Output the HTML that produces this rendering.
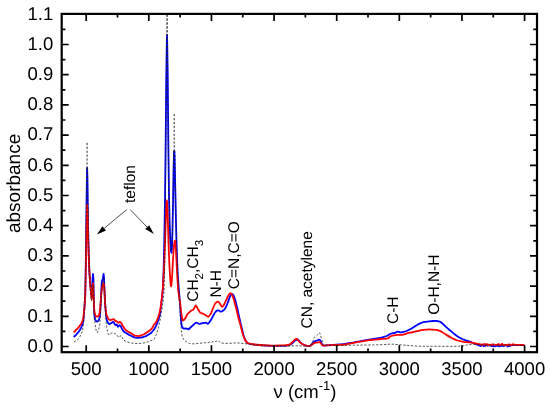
<!DOCTYPE html>
<html><head><meta charset="utf-8"><title>FTIR absorbance</title>
<style>
html,body{margin:0;padding:0;background:#fff;}
svg{display:block;}
text{font-family:"Liberation Sans",Arial,sans-serif;fill:#000;text-rendering:geometricPrecision;}
.t18{font-size:18.5px;}
.t15{font-size:15.5px;}
</style></head><body>
<svg width="550" height="410" viewBox="0 0 550 410">
<rect x="0" y="0" width="550" height="410" fill="#fff"/>
<defs><clipPath id="pc"><rect x="61.7" y="13.9" width="475.3" height="338.3"/></clipPath></defs>

<g clip-path="url(#pc)" fill="none" stroke-linejoin="round" stroke-linecap="butt">
<path d="M73.70 337.00L76.00 334.80L78.50 332.00L80.20 329.50L81.60 326.60L82.60 323.80L83.40 320.50L83.80 315.00L84.40 308.50L84.80 302.00L85.20 296.00L85.50 282.00L85.90 255.00L86.40 215.00L86.90 178.00L87.10 167.80L87.40 178.00L87.90 215.00L88.60 250.00L89.40 272.00L90.20 284.00L91.00 292.50L91.50 295.50L92.00 288.00L92.60 278.00L93.00 274.00L93.40 278.00L93.70 292.00L94.00 306.00L94.30 314.00L94.80 318.00L95.50 320.30L96.30 321.30L97.10 321.70L97.90 321.30L98.70 320.30L99.40 318.00L100.00 314.60L100.40 309.00L100.80 301.00L101.20 293.00L101.80 281.30L102.30 280.50L102.90 278.00L103.60 274.00L104.10 278.00L104.50 291.00L104.90 300.00L105.40 307.50L105.80 312.50L106.30 317.00L106.90 320.50L108.00 322.80L109.10 324.10L110.20 323.70L111.30 323.00L113.20 321.90L113.80 322.50L114.30 323.40L115.00 324.50L115.70 325.20L116.80 324.50L117.40 325.50L117.90 326.70L118.80 326.20L119.70 325.20L120.30 325.50L120.80 326.30L122.30 329.30L123.70 331.50L126.00 333.00L128.50 334.60L131.00 335.70L134.90 337.60L138.00 337.90L141.00 337.60L143.50 337.00L145.90 336.10L148.30 334.80L150.70 333.30L152.60 331.30L154.40 329.00L156.00 326.00L157.40 322.90L158.70 319.00L159.90 314.40L160.80 308.50L161.50 302.00L162.20 296.00L162.90 288.00L163.60 270.00L164.30 240.00L165.00 200.00L165.70 140.00L166.30 75.00L166.80 42.00L167.00 35.00L167.20 42.00L167.70 75.00L168.30 140.00L169.00 195.00L169.70 225.00L170.40 243.00L171.00 251.00L171.50 252.80L171.90 249.00L172.50 230.00L173.10 200.00L173.60 170.00L174.00 153.00L174.20 151.00L174.50 155.00L175.00 175.00L175.60 205.00L176.30 235.00L177.00 258.00L177.80 275.00L178.60 287.00L179.40 296.00L180.00 304.00L180.50 312.00L181.00 320.00L181.70 325.50L182.50 327.60L183.20 328.20C183.47 328.38 183.77 328.67 184.10 328.70C184.43 328.73 184.87 328.38 185.20 328.40C185.53 328.42 185.75 328.77 186.10 328.80C186.45 328.83 186.92 328.52 187.30 328.60C187.68 328.68 187.95 329.40 188.40 329.30C188.85 329.20 189.40 328.52 190.00 328.00C190.60 327.48 191.33 326.83 192.00 326.20C192.67 325.57 193.28 324.80 194.00 324.20C194.72 323.60 195.63 322.73 196.30 322.60C196.97 322.47 197.48 323.20 198.00 323.40C198.52 323.60 198.90 323.78 199.40 323.80C199.90 323.82 200.40 323.60 201.00 323.50C201.60 323.40 202.42 323.30 203.00 323.20C203.58 323.10 204.00 323.00 204.50 322.90C205.00 322.80 205.43 322.45 206.00 322.60C206.57 322.75 207.32 323.90 207.90 323.80C208.48 323.70 208.98 322.63 209.50 322.00C210.02 321.37 210.50 320.83 211.00 320.00C211.50 319.17 212.00 317.97 212.50 317.00C213.00 316.03 213.50 315.03 214.00 314.20C214.50 313.37 215.00 312.60 215.50 312.00C216.00 311.40 216.50 310.87 217.00 310.60C217.50 310.33 218.00 310.28 218.50 310.40C219.00 310.52 219.53 311.10 220.00 311.30C220.47 311.50 220.95 311.62 221.30 311.60C221.65 311.58 221.83 311.35 222.10 311.20C222.37 311.05 222.58 310.93 222.90 310.70C223.22 310.47 223.63 310.18 224.00 309.80C224.37 309.42 224.77 308.90 225.10 308.40C225.43 307.90 225.70 307.40 226.00 306.80C226.30 306.20 226.57 305.60 226.90 304.80C227.23 304.00 227.63 302.98 228.00 302.00C228.37 301.02 228.75 299.83 229.10 298.90C229.45 297.97 229.78 297.10 230.10 296.40C230.42 295.70 230.72 295.12 231.00 294.70C231.28 294.28 231.52 293.95 231.80 293.90C232.08 293.85 232.32 293.95 232.70 294.40C233.08 294.85 233.65 295.58 234.10 296.60C234.55 297.62 234.98 299.03 235.40 300.50C235.82 301.97 236.20 303.73 236.60 305.40C237.00 307.07 237.40 308.68 237.80 310.50C238.20 312.32 238.60 314.47 239.00 316.30C239.40 318.13 239.80 319.80 240.20 321.50C240.60 323.20 241.00 324.83 241.40 326.50C241.80 328.17 242.23 330.00 242.60 331.50C242.97 333.00 243.20 334.17 243.60 335.50C244.00 336.83 244.50 338.42 245.00 339.50C245.50 340.58 246.05 341.33 246.60 342.00C247.15 342.67 247.00 343.05 248.30 343.50C249.60 343.95 251.35 344.35 254.40 344.70C257.45 345.05 263.35 345.40 266.60 345.60C269.85 345.80 271.47 345.87 273.90 345.90C276.33 345.93 279.35 345.82 281.20 345.80C283.05 345.78 283.87 345.87 285.00 345.80C286.13 345.73 287.17 345.57 288.00 345.40C288.83 345.23 289.33 345.12 290.00 344.80C290.67 344.48 291.33 344.03 292.00 343.50C292.67 342.97 293.40 342.15 294.00 341.60C294.60 341.05 295.07 340.55 295.60 340.20C296.13 339.85 296.70 339.50 297.20 339.50C297.70 339.50 298.13 339.78 298.60 340.20C299.07 340.62 299.47 341.43 300.00 342.00C300.53 342.57 301.20 343.15 301.80 343.60C302.40 344.05 302.90 344.37 303.60 344.70C304.30 345.03 305.08 345.35 306.00 345.60C306.92 345.85 308.30 346.25 309.10 346.20C309.90 346.15 310.27 345.73 310.80 345.30C311.33 344.87 311.75 344.18 312.30 343.60C312.85 343.02 313.35 342.30 314.10 341.80C314.85 341.30 316.12 340.90 316.80 340.60C317.48 340.30 317.82 340.17 318.20 340.00C318.58 339.83 318.82 339.60 319.10 339.60C319.38 339.60 319.65 339.77 319.90 340.00C320.15 340.23 320.38 340.62 320.60 341.00C320.82 341.38 321.00 341.83 321.20 342.30C321.40 342.77 321.55 343.30 321.80 343.80C322.05 344.30 322.32 345.00 322.70 345.30C323.08 345.60 323.22 345.62 324.10 345.60C324.98 345.58 326.38 345.32 328.00 345.20C329.62 345.08 331.80 345.03 333.80 344.90C335.80 344.77 338.13 344.57 340.00 344.40C341.87 344.23 343.17 344.15 345.00 343.90C346.83 343.65 348.97 343.27 351.00 342.90C353.03 342.53 355.20 342.07 357.20 341.70C359.20 341.33 360.97 341.05 363.00 340.70C365.03 340.35 367.40 339.93 369.40 339.60C371.40 339.27 373.17 339.00 375.00 338.70C376.83 338.40 378.98 338.08 380.40 337.80C381.82 337.52 382.48 337.30 383.50 337.00C384.52 336.70 385.58 336.40 386.50 336.00C387.42 335.60 388.20 335.02 389.00 334.60C389.80 334.18 390.63 333.75 391.30 333.50C391.97 333.25 392.38 333.20 393.00 333.10C393.62 333.00 394.27 333.13 395.00 332.90C395.73 332.67 396.73 331.87 397.40 331.70C398.07 331.53 398.48 331.78 399.00 331.90C399.52 332.02 399.83 332.38 400.50 332.40C401.17 332.42 402.25 332.15 403.00 332.00C403.75 331.85 404.17 331.78 405.00 331.50C405.83 331.22 406.98 330.77 408.00 330.30C409.02 329.83 410.10 329.27 411.10 328.70C412.10 328.13 412.98 327.52 414.00 326.90C415.02 326.28 416.17 325.58 417.20 325.00C418.23 324.42 419.18 323.87 420.20 323.40C421.22 322.93 421.77 322.55 423.30 322.20C424.83 321.85 427.78 321.50 429.40 321.30C431.02 321.10 431.78 321.05 433.00 321.00C434.22 320.95 435.75 320.95 436.70 321.00C437.65 321.05 438.08 321.13 438.70 321.30C439.32 321.47 439.82 321.67 440.40 322.00C440.98 322.33 441.60 322.80 442.20 323.30C442.80 323.80 442.68 323.80 444.00 325.00C445.32 326.20 448.07 328.77 450.10 330.50C452.13 332.23 454.17 333.98 456.20 335.40C458.23 336.82 460.83 338.23 462.30 339.00C463.77 339.77 463.73 339.55 465.00 340.00C466.27 340.45 468.57 341.20 469.90 341.70C471.23 342.20 471.98 342.60 473.00 343.00C474.02 343.40 475.08 343.73 476.00 344.10C476.92 344.47 477.68 344.88 478.50 345.20C479.32 345.52 480.32 346.06 480.90 346.00C481.48 345.94 481.67 345.01 482.00 344.84C482.33 344.67 482.60 344.74 482.90 344.99C483.20 345.24 483.50 346.27 483.80 346.34C484.10 346.41 484.40 345.49 484.70 345.39C485.00 345.29 485.30 345.77 485.60 345.73C485.90 345.69 486.20 345.18 486.50 345.14C486.80 345.10 487.10 345.49 487.40 345.51C487.70 345.53 488.00 345.34 488.30 345.29C488.60 345.24 488.90 345.17 489.20 345.23C489.50 345.29 489.80 345.58 490.10 345.65C490.40 345.72 490.70 345.55 491.00 345.65C491.30 345.75 491.60 346.20 491.90 346.23C492.20 346.26 492.50 345.82 492.80 345.83C493.10 345.84 493.40 346.22 493.70 346.27C494.00 346.32 494.30 346.12 494.60 346.14C494.90 346.16 495.20 346.44 495.50 346.38C495.80 346.32 496.10 346.06 496.40 345.81C496.70 345.56 497.00 344.83 497.30 344.89C497.60 344.95 497.90 345.91 498.20 346.15C498.50 346.39 498.80 346.33 499.10 346.34C499.40 346.35 499.70 346.35 500.00 346.23C500.30 346.11 500.60 345.68 500.90 345.62C501.20 345.56 501.50 345.99 501.80 345.88C502.10 345.77 502.40 344.94 502.70 344.98C503.00 345.02 503.30 345.99 503.60 346.10C503.90 346.21 504.20 345.80 504.50 345.63C504.80 345.46 505.10 345.26 505.40 345.11C505.70 344.96 506.00 344.54 506.30 344.71C506.60 344.88 506.90 345.86 507.20 346.14C507.50 346.42 507.80 346.61 508.10 346.38C508.40 346.15 508.70 344.82 509.00 344.76C509.30 344.70 509.60 345.94 509.90 346.04C510.20 346.14 510.50 345.53 510.80 345.34C511.10 345.14 511.17 344.93 511.70 344.87C512.23 344.81 512.95 344.98 514.00 345.00C515.05 345.02 516.67 345.00 518.00 345.00C519.33 345.00 520.95 345.00 522.00 345.00C523.05 345.00 523.92 345.00 524.30 345.00" stroke="#0000ff" stroke-width="1.8"/>
<path d="M73.50 331.40L74.80 331.80L75.60 330.40L76.20 329.70L77.50 328.70L79.10 326.60L80.50 324.80L81.60 322.90L82.60 320.50L83.40 318.00L83.80 313.50L84.40 308.30L84.80 302.00L85.20 296.00L85.50 285.00L85.90 265.00L86.40 235.00L86.90 210.00L87.10 204.90L87.50 210.00L88.10 235.00L88.90 262.00L89.60 275.00L90.30 285.00L91.00 294.00L91.60 298.90L92.20 294.00L92.70 286.00L93.00 283.20L93.30 286.00L93.50 296.00L93.90 303.00L94.20 309.00L94.60 313.00L95.30 315.30L96.20 316.30L97.10 316.70L98.00 316.30L98.90 315.30L99.60 313.00L100.10 309.00L100.50 304.00L100.90 299.00L101.30 294.00L101.80 289.50L102.60 285.50L103.40 283.20L104.00 284.50L104.50 291.00L104.90 300.00L105.40 307.00L105.80 311.00L106.60 315.00L107.70 317.60L108.70 319.30L109.90 320.10L111.00 319.90L112.10 319.60L113.90 319.20L114.50 319.90L115.00 320.80L116.50 321.20L117.40 322.00L118.30 322.70L119.20 322.40L120.10 321.90L120.90 322.40L121.60 323.40L123.00 326.30L125.00 329.30L126.10 330.20L126.10 330.20L128.50 331.90L131.00 333.30L134.90 335.70L138.50 336.10L141.00 335.50L143.40 334.50L145.90 333.10L148.30 331.50L150.20 330.00L152.00 328.40L153.00 326.50L153.80 324.80L154.70 323.80L155.60 322.90L156.80 320.70L158.00 318.00L159.30 313.50L160.50 308.30L161.30 302.00L162.00 296.00L162.70 290.00L163.40 280.00L164.20 265.00L165.00 245.00L165.70 222.00L166.30 205.00L166.80 200.40L167.30 205.00L167.90 222.00L168.60 245.00L169.40 265.00L170.20 279.00L170.80 285.00L171.10 286.30L171.50 284.50L172.20 275.00L173.00 260.00L173.80 247.00L174.50 241.50L174.90 240.60L175.30 242.00L175.90 250.00L176.70 265.00L177.50 280.00L178.20 290.00L179.10 297.00L180.00 302.20L180.60 307.00L181.20 312.00L181.90 317.00L182.70 320.60L183.80 320.00C184.17 319.68 184.53 319.20 184.90 318.70C185.27 318.20 185.60 317.72 186.00 317.00C186.40 316.28 186.70 315.20 187.30 314.40C187.90 313.60 188.98 312.82 189.60 312.20C190.22 311.58 190.38 311.13 191.00 310.70C191.62 310.27 192.70 310.13 193.30 309.60C193.90 309.07 194.20 308.18 194.60 307.50C195.00 306.82 195.37 305.67 195.70 305.50C196.03 305.33 196.28 306.00 196.60 306.50C196.92 307.00 197.23 307.82 197.60 308.50C197.97 309.18 198.40 309.97 198.80 310.60C199.20 311.23 199.47 311.83 200.00 312.30C200.53 312.77 201.38 313.12 202.00 313.40C202.62 313.68 203.07 313.68 203.70 314.00C204.33 314.32 205.10 314.85 205.80 315.30C206.50 315.75 207.28 316.67 207.90 316.70C208.52 316.73 208.98 316.05 209.50 315.50C210.02 314.95 210.55 314.28 211.00 313.40C211.45 312.52 211.70 311.43 212.20 310.20C212.70 308.97 213.50 307.12 214.00 306.00C214.50 304.88 214.78 304.13 215.20 303.50C215.62 302.87 216.08 302.50 216.50 302.20C216.92 301.90 217.28 301.68 217.70 301.70C218.12 301.72 218.53 301.82 219.00 302.30C219.47 302.78 220.08 303.93 220.50 304.60C220.92 305.27 221.20 305.92 221.50 306.30C221.80 306.68 222.00 306.98 222.30 306.90C222.60 306.82 222.95 306.32 223.30 305.80C223.65 305.28 224.03 304.52 224.40 303.80C224.77 303.08 225.15 302.22 225.50 301.50C225.85 300.78 226.15 300.25 226.50 299.50C226.85 298.75 227.23 297.75 227.60 297.00C227.97 296.25 228.35 295.55 228.70 295.00C229.05 294.45 229.40 294.00 229.70 293.70C230.00 293.40 230.18 293.12 230.50 293.20C230.82 293.28 231.20 293.60 231.60 294.20C232.00 294.80 232.48 295.75 232.90 296.80C233.32 297.85 233.68 299.07 234.10 300.50C234.52 301.93 234.98 303.82 235.40 305.40C235.82 306.98 236.20 308.38 236.60 310.00C237.00 311.62 237.40 313.43 237.80 315.10C238.20 316.77 238.57 318.38 239.00 320.00C239.43 321.62 239.97 323.22 240.40 324.80C240.83 326.38 241.20 327.95 241.60 329.50C242.00 331.05 242.40 332.77 242.80 334.10C243.20 335.43 243.60 336.48 244.00 337.50C244.40 338.52 244.77 339.45 245.20 340.20C245.63 340.95 246.08 341.48 246.60 342.00C247.12 342.52 247.57 342.97 248.30 343.30C249.03 343.63 249.98 343.80 251.00 344.00C252.02 344.20 252.90 344.33 254.40 344.50C255.90 344.67 257.97 344.85 260.00 345.00C262.03 345.15 264.28 345.28 266.60 345.40C268.92 345.52 271.47 345.70 273.90 345.70C276.33 345.70 279.35 345.45 281.20 345.40C283.05 345.35 283.87 345.47 285.00 345.40C286.13 345.33 287.18 345.18 288.00 345.00C288.82 344.82 289.32 344.63 289.90 344.30C290.48 343.97 290.90 343.57 291.50 343.00C292.10 342.43 292.92 341.47 293.50 340.90C294.08 340.33 294.48 339.92 295.00 339.60C295.52 339.28 296.10 338.93 296.60 339.00C297.10 339.07 297.50 339.50 298.00 340.00C298.50 340.50 299.02 341.42 299.60 342.00C300.18 342.58 300.88 343.08 301.50 343.50C302.12 343.92 302.55 344.17 303.30 344.50C304.05 344.83 305.03 345.22 306.00 345.50C306.97 345.78 308.30 346.20 309.10 346.20C309.90 346.20 310.27 345.78 310.80 345.50C311.33 345.22 311.75 344.88 312.30 344.50C312.85 344.12 313.35 343.52 314.10 343.20C314.85 342.88 316.08 342.75 316.80 342.60C317.52 342.45 317.97 342.38 318.40 342.30C318.83 342.22 319.10 342.07 319.40 342.10C319.70 342.13 319.95 342.30 320.20 342.50C320.45 342.70 320.67 342.98 320.90 343.30C321.13 343.62 321.37 344.08 321.60 344.40C321.83 344.72 321.88 345.00 322.30 345.20C322.72 345.40 323.15 345.58 324.10 345.60C325.05 345.62 326.38 345.38 328.00 345.30C329.62 345.22 331.80 345.18 333.80 345.10C335.80 345.02 338.13 344.90 340.00 344.80C341.87 344.70 343.17 344.73 345.00 344.50C346.83 344.27 348.97 343.80 351.00 343.40C353.03 343.00 355.20 342.47 357.20 342.10C359.20 341.73 360.97 341.52 363.00 341.20C365.03 340.88 367.40 340.47 369.40 340.20C371.40 339.93 373.17 339.80 375.00 339.60C376.83 339.40 378.90 339.13 380.40 339.00C381.90 338.87 382.78 338.90 384.00 338.80C385.22 338.70 386.78 338.70 387.70 338.40C388.62 338.10 388.90 337.40 389.50 337.00C390.10 336.60 390.55 336.28 391.30 336.00C392.05 335.72 392.98 335.50 394.00 335.30C395.02 335.10 396.40 334.87 397.40 334.80C398.40 334.73 399.18 334.90 400.00 334.90C400.82 334.90 401.47 334.93 402.30 334.80C403.13 334.67 403.98 334.42 405.00 334.10C406.02 333.78 407.38 333.17 408.40 332.90C409.42 332.63 409.63 332.80 411.10 332.50C412.57 332.20 415.17 331.53 417.20 331.10C419.23 330.67 421.27 330.20 423.30 329.90C425.33 329.60 427.37 329.30 429.40 329.30C431.43 329.30 433.67 329.60 435.50 329.90C437.33 330.20 438.78 330.40 440.40 331.10C442.02 331.80 443.38 332.98 445.20 334.10C447.02 335.22 449.27 336.73 451.30 337.80C453.33 338.87 455.37 339.83 457.40 340.50C459.43 341.17 461.73 341.50 463.50 341.80C465.27 342.10 466.53 342.15 468.00 342.30C469.47 342.45 470.97 342.50 472.30 342.70C473.63 342.90 474.78 343.25 476.00 343.50C477.22 343.75 478.85 344.04 479.60 344.23C480.35 344.42 480.20 344.63 480.50 344.66C480.80 344.69 481.10 344.41 481.40 344.42C481.70 344.44 482.00 344.69 482.30 344.75C482.60 344.81 482.90 344.91 483.20 344.78C483.50 344.65 483.80 344.13 484.10 343.99C484.40 343.85 484.70 343.74 485.00 343.92C485.30 344.10 485.60 345.01 485.90 345.07C486.20 345.13 486.50 344.40 486.80 344.26C487.10 344.12 487.40 344.06 487.70 344.23C488.00 344.40 488.30 345.24 488.60 345.29C488.90 345.35 489.20 344.60 489.50 344.56C489.80 344.52 490.10 345.07 490.40 345.07C490.70 345.07 491.00 344.62 491.30 344.57C491.60 344.52 491.90 344.87 492.20 344.79C492.50 344.71 492.80 344.11 493.10 344.11C493.40 344.11 493.70 344.62 494.00 344.79C494.30 344.96 494.60 345.15 494.90 345.12C495.20 345.09 495.50 344.66 495.80 344.63C496.10 344.60 496.40 344.90 496.70 344.94C497.00 344.98 497.30 345.00 497.60 344.84C497.90 344.68 498.20 343.97 498.50 343.99C498.80 344.01 499.10 344.84 499.40 344.96C499.70 345.08 500.00 344.84 500.30 344.73C500.60 344.62 500.90 344.45 501.20 344.32C501.50 344.19 501.80 343.81 502.10 343.94C502.40 344.07 502.70 345.01 503.00 345.11C503.30 345.21 503.60 344.59 503.90 344.56C504.20 344.53 504.50 344.82 504.80 344.91C505.10 345.00 505.40 345.13 505.70 345.13C506.00 345.13 506.30 344.89 506.60 344.90C506.90 344.91 507.20 345.26 507.50 345.19C507.80 345.12 508.10 344.48 508.40 344.45C508.70 344.42 509.00 345.01 509.30 345.02C509.60 345.03 509.90 344.49 510.20 344.52C510.50 344.55 510.80 345.11 511.10 345.21C511.40 345.31 511.70 345.32 512.00 345.13C512.30 344.94 512.57 344.11 512.90 344.04C513.23 343.97 513.15 344.57 514.00 344.70C514.85 344.83 516.67 344.77 518.00 344.80C519.33 344.83 520.95 344.87 522.00 344.90C523.05 344.93 523.92 344.98 524.30 345.00" stroke="#ff0000" stroke-width="1.8"/>
<path d="M73.80 342.00L76.00 341.00L77.90 339.60L80.00 336.50L82.20 331.50L83.30 326.00L83.80 319.00L84.40 310.00L84.80 302.00L85.20 294.00L85.50 278.00L85.90 245.00L86.40 195.00L86.75 168.00M87.55 168.00L87.90 195.00L88.60 245.00L89.40 272.00L90.20 285.00L91.00 296.00L91.60 301.00L92.10 295.00L92.70 287.00L93.00 284.00L93.40 288.00L93.90 300.00L94.40 318.00L95.30 326.00L96.30 331.00L97.40 332.70L98.60 330.00L99.90 324.00L100.60 312.00L101.30 298.00L102.00 288.00L102.80 281.00L103.50 277.00L104.10 281.00L104.70 293.00L105.40 308.00L106.00 320.00L106.80 328.00L107.80 333.00L109.00 335.00L110.80 333.70L112.70 332.70L114.50 333.50L116.40 334.20L117.60 336.00L118.80 337.60L120.00 336.30L121.20 335.50L122.50 338.00L123.70 340.00L126.00 341.50L130.00 342.80L136.00 343.50L142.00 343.30L146.00 342.50L150.00 341.00L152.50 340.00L154.40 338.80L156.30 334.50L158.00 329.00L159.70 322.00L161.10 314.40L162.10 308.00L163.00 302.00L163.60 296.00L164.10 290.00L164.60 270.00L165.10 235.00L165.60 180.00L166.10 110.00L166.60 50.00L167.00 10.00L167.20 4.00L167.50 50.00L168.00 110.00L168.60 180.00L169.30 215.00L170.00 238.00L170.70 248.00L171.30 251.00L171.90 247.00L172.50 228.00L173.10 190.00L173.53 151.00M175.00 151.00L175.60 195.00L176.30 235.00L177.20 262.00L178.20 282.00L179.10 296.00L179.90 308.00L180.60 320.00L181.30 330.50L181.80 334.50L182.30 336.60L183.70 339.50C184.32 340.32 185.02 340.83 186.00 341.50C186.98 342.17 188.27 343.12 189.60 343.50C190.93 343.88 192.37 343.83 194.00 343.80C195.63 343.77 197.48 343.48 199.40 343.30C201.32 343.12 204.07 342.78 205.50 342.70C206.93 342.62 207.25 342.92 208.00 342.80C208.75 342.68 209.40 342.08 210.00 342.00C210.60 341.92 211.10 342.38 211.60 342.30C212.10 342.22 212.52 341.52 213.00 341.50C213.48 341.48 214.00 342.25 214.50 342.20C215.00 342.15 215.47 341.32 216.00 341.20C216.53 341.08 217.20 341.53 217.70 341.50C218.20 341.47 218.53 340.83 219.00 341.00C219.47 341.17 219.70 342.12 220.50 342.50C221.30 342.88 222.22 343.17 223.80 343.30C225.38 343.43 227.97 343.37 230.00 343.30C232.03 343.23 234.00 342.90 236.00 342.90C238.00 342.90 240.00 343.12 242.00 343.30C244.00 343.48 245.93 343.77 248.00 344.00C250.07 344.23 251.30 344.47 254.40 344.70C257.50 344.93 262.33 345.22 266.60 345.40C270.87 345.58 276.43 345.70 280.00 345.80C283.57 345.90 286.00 345.98 288.00 346.00C290.00 346.02 290.67 345.95 292.00 345.90C293.33 345.85 294.67 345.70 296.00 345.70C297.33 345.70 298.00 345.80 300.00 345.90C302.00 346.00 306.08 346.38 308.00 346.30C309.92 346.22 310.70 346.20 311.50 345.40C312.30 344.60 312.37 342.78 312.80 341.50C313.23 340.22 313.43 338.70 314.10 337.70C314.77 336.70 316.10 336.12 316.80 335.50C317.50 334.88 317.85 334.47 318.30 334.00C318.75 333.53 319.18 332.62 319.50 332.70C319.82 332.78 319.97 333.82 320.20 334.50C320.43 335.18 320.63 335.97 320.90 336.80C321.17 337.63 321.50 338.47 321.80 339.50C322.10 340.53 322.40 342.03 322.70 343.00C323.00 343.97 323.33 344.87 323.60 345.30C323.87 345.73 323.23 345.55 324.30 345.60C325.37 345.65 326.55 345.65 330.00 345.60C333.45 345.55 340.00 345.38 345.00 345.30C350.00 345.22 355.00 345.17 360.00 345.10C365.00 345.03 370.83 345.00 375.00 344.90C379.17 344.80 382.67 344.62 385.00 344.50C387.33 344.38 387.67 344.25 389.00 344.20C390.33 344.15 391.50 344.13 393.00 344.20C394.50 344.27 396.00 344.43 398.00 344.60C400.00 344.77 402.67 345.00 405.00 345.20C407.33 345.40 408.67 345.62 412.00 345.80C415.33 345.98 420.33 346.22 425.00 346.30C429.67 346.38 435.00 346.30 440.00 346.30C445.00 346.30 451.33 346.35 455.00 346.30C458.67 346.25 460.17 346.18 462.00 346.00C463.83 345.82 464.67 345.45 466.00 345.20C467.33 344.95 468.50 344.65 470.00 344.50C471.50 344.35 473.33 344.25 475.00 344.30C476.67 344.35 477.50 344.65 480.00 344.80C482.50 344.95 486.67 345.13 490.00 345.20C493.33 345.27 496.67 345.20 500.00 345.20C503.33 345.20 506.00 345.17 510.00 345.20C514.00 345.23 521.67 345.37 524.00 345.40" stroke="#222" stroke-width="0.75" stroke-dasharray="2.3 1.6"/>
<path d="M87.1 168.5L87.1 142.8M174.2 151.5L174.2 112.6" stroke="#333" stroke-width="1" stroke-dasharray="2.3 1.6"/>
</g>
<path d="M86.20 352.2v-7M86.20 13.9v7M117.51 352.2v-3.7M117.51 13.9v3.7M148.82 352.2v-7M148.82 13.9v7M180.14 352.2v-3.7M180.14 13.9v3.7M211.45 352.2v-7M211.45 13.9v7M242.76 352.2v-3.7M242.76 13.9v3.7M274.07 352.2v-7M274.07 13.9v7M305.39 352.2v-3.7M305.39 13.9v3.7M336.70 352.2v-7M336.70 13.9v7M368.01 352.2v-3.7M368.01 13.9v3.7M399.32 352.2v-7M399.32 13.9v7M430.64 352.2v-3.7M430.64 13.9v3.7M461.95 352.2v-7M461.95 13.9v7M493.26 352.2v-3.7M493.26 13.9v3.7M524.58 352.2v-7M524.58 13.9v7M61.7 346.50h7M537.0 346.50h-7M61.7 331.40h3.7M537.0 331.40h-3.7M61.7 316.30h7M537.0 316.30h-7M61.7 301.20h3.7M537.0 301.20h-3.7M61.7 286.10h7M537.0 286.10h-7M61.7 271.00h3.7M537.0 271.00h-3.7M61.7 255.90h7M537.0 255.90h-7M61.7 240.80h3.7M537.0 240.80h-3.7M61.7 225.70h7M537.0 225.70h-7M61.7 210.60h3.7M537.0 210.60h-3.7M61.7 195.50h7M537.0 195.50h-7M61.7 180.40h3.7M537.0 180.40h-3.7M61.7 165.30h7M537.0 165.30h-7M61.7 150.20h3.7M537.0 150.20h-3.7M61.7 135.10h7M537.0 135.10h-7M61.7 120.00h3.7M537.0 120.00h-3.7M61.7 104.90h7M537.0 104.90h-7M61.7 89.80h3.7M537.0 89.80h-3.7M61.7 74.70h7M537.0 74.70h-7M61.7 59.60h3.7M537.0 59.60h-3.7M61.7 44.50h7M537.0 44.50h-7M61.7 29.40h3.7M537.0 29.40h-3.7" stroke="#000" stroke-width="1.7" fill="none"/>
<rect x="61.7" y="13.9" width="475.3" height="338.3" fill="none" stroke="#000" stroke-width="2.2"/>
<text class="t18" x="86.2" y="375" text-anchor="middle">500</text>
<text class="t18" x="148.8" y="375" text-anchor="middle">1000</text>
<text class="t18" x="211.4" y="375" text-anchor="middle">1500</text>
<text class="t18" x="274.1" y="375" text-anchor="middle">2000</text>
<text class="t18" x="336.7" y="375" text-anchor="middle">2500</text>
<text class="t18" x="399.3" y="375" text-anchor="middle">3000</text>
<text class="t18" x="461.9" y="375" text-anchor="middle">3500</text>
<text class="t18" x="524.6" y="375" text-anchor="middle">4000</text>
<text class="t18" x="53.2" y="351.8" text-anchor="end">0.0</text>
<text class="t18" x="53.2" y="321.6" text-anchor="end">0.1</text>
<text class="t18" x="53.2" y="291.4" text-anchor="end">0.2</text>
<text class="t18" x="53.2" y="261.2" text-anchor="end">0.3</text>
<text class="t18" x="53.2" y="231.0" text-anchor="end">0.4</text>
<text class="t18" x="53.2" y="200.8" text-anchor="end">0.5</text>
<text class="t18" x="53.2" y="170.6" text-anchor="end">0.6</text>
<text class="t18" x="53.2" y="140.4" text-anchor="end">0.7</text>
<text class="t18" x="53.2" y="110.2" text-anchor="end">0.8</text>
<text class="t18" x="53.2" y="80.0" text-anchor="end">0.9</text>
<text class="t18" x="53.2" y="49.8" text-anchor="end">1.0</text>
<text class="t18" x="53.2" y="19.6" text-anchor="end">1.1</text>
<text style="font-size:19px" transform="translate(19.8,183.4) rotate(-90)" text-anchor="middle">absorbance</text>
<text class="t18" x="305" y="397.5" text-anchor="middle">ν (cm<tspan font-size="13" dy="-7.5">-1</tspan><tspan dy="7.5">)</tspan></text>
<text class="t15" transform="translate(135,203) rotate(-90)">teflon</text>
<text class="t15" transform="translate(198,301.8) rotate(-90)">CH<tspan font-size="11.5" dy="4.8">2</tspan><tspan dy="-4.8">,CH</tspan><tspan font-size="11.5" dy="4.8">3</tspan></text>
<text class="t15" transform="translate(221.3,297.6) rotate(-90)">N-H</text>
<text class="t15" transform="translate(238.8,289.2) rotate(-90)">C=N,C=O</text>
<text class="t15" transform="translate(312,328.5) rotate(-90)">CN, acetylene</text>
<text class="t15" transform="translate(398.3,324) rotate(-90)">C-H</text>
<text class="t15" transform="translate(439.3,314.8) rotate(-90)">O-H,N-H</text>
<line x1="126.8" y1="209.6" x2="104.2" y2="228.3" stroke="#222" stroke-width="0.8"/><polygon points="96.9,234.4 102.4,226.2 106.0,230.5" fill="#000"/>
<line x1="130.2" y1="209.6" x2="147.2" y2="227.2" stroke="#222" stroke-width="0.8"/><polygon points="153.8,234 145.2,229.1 149.2,225.2" fill="#000"/>
</svg></body></html>
